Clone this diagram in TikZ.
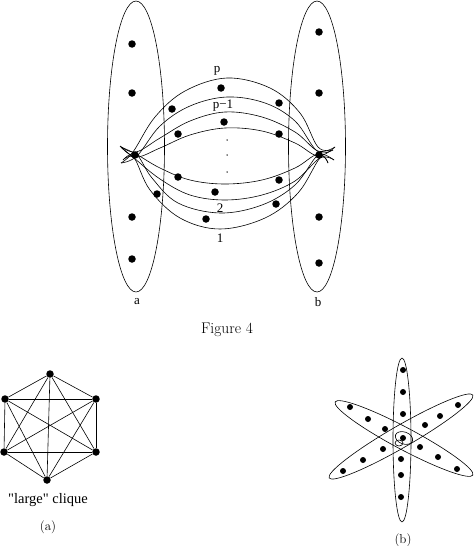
\documentclass[tikz,border=0pt]{standalone}
\usepackage{fontspec}
\newfontfamily\timesfont[Ligatures=TeXOff]{Liberation Serif}
\begin{document}
\begin{tikzpicture}[x=1pt,y=-1pt,line width=0.6pt]
\tikzstyle{every node}+=[inner sep=0pt]
\tikzstyle{vtx}=[circle,fill=black,minimum size=7.5pt]
\tikzstyle{fdot}=[circle,fill=black,minimum size=6pt]
\tikzstyle{tinydot}=[circle,fill=black,minimum size=1.5pt]
\tikzstyle{lbl}=[font=\timesfont\fontsize{13}{15}\selectfont]
\tikzstyle{subcap}=[font=\fontsize{13}{15}\selectfont]
\tikzstyle{band}=[smooth,tension=0.6]
\useasboundingbox (0,0) rectangle (474,546);
% Figure 4: the two big sets a and b
\draw (136,146.5) ellipse [x radius=28.5, y radius=145.5];
\draw (317,146.5) ellipse [x radius=28.5, y radius=145.5];
\node [vtx] (a1) at (132,44) {};
\node [vtx] (a2) at (132,93) {};
\node [vtx] (a3) at (135,155) {};
\node [vtx] (a4) at (132,217) {};
\node [vtx] (a5) at (132,259) {};
\node [vtx] (b1) at (319,32) {};
\node [vtx] (b2) at (319,93) {};
\node [vtx] (b3) at (319,155) {};
\node [vtx] (b4) at (319,217) {};
\node [vtx] (b5) at (319,263) {};
\node [lbl] (la) at (137,302) {a};
\node [lbl] (lb) at (318,302) {b};
% the p bands from a3 to b3
\draw plot[band] coordinates {(121,163) (133,152) (155,117) (185,91) (227,78) (270,88) (300,113) (318,147) (333,150)};
\draw plot[band] coordinates {(121,163) (137,156) (160,126) (190,106) (227,97) (265,103) (295,121) (317,151) (333,150)};
\draw plot[band] coordinates {(120,146) (136,152) (160,138) (190,121) (225,112) (262,117) (295,132) (318,151) (335,147)};
\draw plot[band] coordinates {(120,146) (136,157) (160,148) (190,135) (225,128) (262,131) (295,143) (318,156) (335,147)};
\draw plot[band] coordinates {(121,147) (136,154) (160,168) (190,180) (225,184) (262,180) (295,168) (318,154) (334,160)};
\draw plot[band] coordinates {(121,147) (134,158) (160,179) (190,195) (225,200) (262,195) (295,181) (320,158) (334,160)};
\draw plot[band] coordinates {(123,160) (136,154) (152,178) (178,203) (220,213) (262,205) (295,185) (318,155) (328,163)};
\draw plot[band] coordinates {(123,160) (134,158) (150,190) (180,218) (220,229) (265,218) (298,193) (320,158) (328,163)};
\node [vtx] (p1) at (221,88) {};
\node [vtx] (p2) at (172,109) {};
\node [vtx] (p3) at (279,103) {};
\node [vtx] (q1) at (224,122) {};
\node [vtx] (q2) at (178,134) {};
\node [vtx] (q3) at (279,134) {};
\node [vtx] (s1) at (215,192) {};
\node [vtx] (s2) at (178,177) {};
\node [vtx] (s3) at (279,180) {};
\node [vtx] (t1) at (206,219) {};
\node [vtx] (t2) at (157,194) {};
\node [vtx] (t3) at (276,204) {};
\node [tinydot] (d1) at (227,140) {};
\node [tinydot] (d2) at (227,155) {};
\node [tinydot] (d3) at (227,172) {};
\node [lbl] (lp) at (217,71) {p};
\node [lbl] (lq) at (223,106) {p−1};
\node [lbl] (ls) at (220,208) {2};
\node [lbl] (lt) at (220,238) {1};
\node [font=\fontsize{15.5}{18}\selectfont] (fig) at (227,330) {Figure 4};
% (a) the large clique
\node [vtx] (c1) at (50,374) {};
\node [vtx] (c2) at (96,399) {};
\node [vtx] (c3) at (96,452) {};
\node [vtx] (c4) at (47,480) {};
\node [vtx] (c5) at (4,452) {};
\node [vtx] (c6) at (5,399) {};
\draw (c1) -- (c2);
\draw (c1) -- (c3);
\draw (c1) -- (c4);
\draw (c1) -- (c5);
\draw (c1) -- (c6);
\draw (c2) -- (c3);
\draw (c2) -- (c4);
\draw (c2) -- (c5);
\draw (c2) -- (c6);
\draw (c3) -- (c4);
\draw (c3) -- (c5);
\draw (c3) -- (c6);
\draw (c4) -- (c5);
\draw (c4) -- (c6);
\draw (c5) -- (c6);
\node [font=\timesfont\fontsize{14.5}{17}\selectfont] (cl) at (48,500) {"large" clique};
\node [subcap] (ca) at (48,527) {(a)};
% (b) three sets through one vertex
\draw (402,440) ellipse [x radius=9, y radius=82];
\draw (404,438.5) ellipse [x radius=78, y radius=11, rotate=-28];
\draw (401,436.5) ellipse [x radius=83, y radius=11, rotate=30];
\draw (404,438) ellipse [x radius=9, y radius=6, rotate=-20];
\draw (399,443) ellipse [x radius=4, y radius=3];
\node [fdot] (f0) at (403,438) {};
\node [fdot] (v1) at (403,370) {};
\node [fdot] (v2) at (403,392) {};
\node [fdot] (v3) at (403,414) {};
\node [fdot] (v4) at (401,459) {};
\node [fdot] (v5) at (401,475) {};
\node [fdot] (v6) at (401,497) {};
\node [fdot] (u1) at (350,407) {};
\node [fdot] (u2) at (368,419) {};
\node [fdot] (u3) at (385,429) {};
\node [fdot] (u4) at (420,447) {};
\node [fdot] (u5) at (438,457) {};
\node [fdot] (u6) at (457,469) {};
\node [fdot] (w1) at (343,471) {};
\node [fdot] (w2) at (363,460) {};
\node [fdot] (w3) at (383,449) {};
\node [fdot] (w4) at (425,425) {};
\node [fdot] (w5) at (440,416) {};
\node [fdot] (w6) at (458,405) {};
\node [subcap] (cb) at (403,540) {(b)};
\end{tikzpicture}
\end{document}
